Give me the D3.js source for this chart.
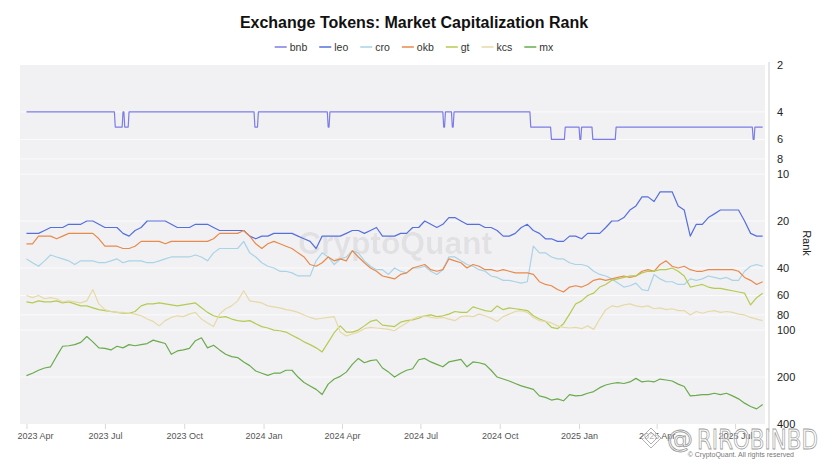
<!DOCTYPE html>
<html>
<head>
<meta charset="utf-8">
<title>Exchange Tokens: Market Capitalization Rank</title>
<style>
	body {
		margin: 0;
		background: #fff;
	}

	svg {
		display: block;
		font-family: "Liberation Sans", Arial, sans-serif;
	}

	.title {
		font-size: 16px;
		font-weight: bold;
		fill: #111;
	}

	.legend text {
		font-size: 10.5px;
		fill: #333;
	}

	.x.axis text {
		font-size: 9px;
		fill: #555;
	}

	.x.axis line {
		stroke: #d8d8d8;
	}

	.x.axis path {
		display: none;
	}

	.y.axis text {
		font-size: 11px;
		fill: #222;
	}

	.y.axis path {
		stroke: #cfcfcf;
	}

	.grid line {
		stroke: #fbfbfc;
	}

	.line {
		fill: none;
		stroke-width: 1.2;
		stroke-linejoin: round;
	}
</style>
<script src="https://d3js.org/d3.v7.min.js"></script>
</head>
<body>
<svg id="chart" width="828" height="466"></svg>
<script type="text/javascript">
	// one value per week, starting on this day
	var startDay = "2023-04-01";
	var stepDays = 7;

	var names = ["bnb", "leo", "cro", "okb", "gt", "kcs", "mx"];
	var colors = ["#7c7ce6", "#5670da", "#a9d3e6", "#e88a4c", "#b4cb52", "#e7d9a6", "#6aab4c"];

	// bnb only moves in steps: [day since start, rank from that day on]
	var bnbSteps = [[0, 4], [103, 5], [112, 4], [114, 5], [119, 4], [265, 5], [269, 4],
		[350, 5], [352, 4], [484, 5], [486, 4], [494, 5], [496, 4], [585, 5], [609, 6],
		[625, 5], [642, 6], [644, 5], [657, 6], [684, 5], [843, 6], [845, 5]];
	var bnbLastDay = 854;

	var leo = [24,24,24,23,22,22,22,21,21,21, 20,20,21,22,22,22,24,25,23,22,
		20,20,20,20,21,22,22,22,21,21, 21,22,23,23,23,23,23,25,26,25,
		25,24,24,24,24,25,26,27,30,25, 25,25,25,24,23,23,24,23,22,25,
		25,25,24,24,22,22,20,21,22,21, 19,19,20,21,21,21,22,22,23,25,
		25,24,22,21,23,24,26,26,27,27, 25,25,26,24,24,24,22,20,20,19,
		17,16,14,14,15,13,13,13,16,17, 25,21,21,19,18,17,17,17,17,20,
		24,25,25];

	var cro = [35,37,39,36,33,34,35,36,38,36, 36,36,37,37,36,35,37,36,36,36,
		37,37,36,35,34,34,34,34,33,34, 36,32,30,30,30,30,27,32,34,37,
		39,40,42,42,43,45,45,45,36,32, 34,38,35,34,31,32,36,39,41,41,
		44,40,42,43,40,40,39,42,44,41, 34,34,36,38,39,41,42,45,46,48,
		48,49,50,49,29,32,32,34,35,35, 37,38,38,39,42,44,45,47,50,53,
		52,50,55,56,44,47,49,49,51,51, 47,48,47,45,46,47,46,48,48,42,
		39,38,39];

	var okb = [28,28,25,25,25,26,25,24,24,24, 24,24,26,29,29,29,30,30,29,27,
		27,27,27,28,27,27,27,27,27,27, 27,26,24,24,24,24,23,25,28,30,
		28,27,28,29,30,32,34,38,39,37, 34,36,35,36,31,34,37,40,42,45,
		46,47,44,43,40,39,38,41,42,41, 35,36,37,40,38,39,41,41,42,41,
		42,43,43,43,44,49,51,52,55,57, 53,52,53,51,48,47,48,47,46,45,
		46,45,42,41,42,38,36,39,40,39, 41,42,42,41,41,41,41,41,42,46,
		48,51,49];

	var gt = [66,67,65,66,66,65,67,66,68,70, 70,72,74,75,76,77,78,78,76,70,
		68,68,67,68,69,70,69,68,67,72, 77,81,83,82,85,87,88,87,91,95,
		97,100,101,103,108,113,119,124,130,138, 120,104,94,103,103,100,94,88,86,93,
		94,95,89,87,86,84,81,80,82,81, 79,76,77,77,71,73,75,76,70,74,
		72,73,74,75,81,85,88,96,98,91, 79,68,65,60,58,53,51,48,47,46,
		45,45,43,42,42,41,41,40,42,45, 53,52,51,53,54,54,55,56,57,58,
		69,62,58];

	var kcs = [60,62,60,63,62,63,66,65,66,67, 65,55,68,74,76,77,77,78,79,81,
		85,88,94,87,83,81,82,79,77,85, 90,95,79,73,70,65,56,65,66,67,
		70,71,72,74,75,77,80,83,85,84, 83,82,103,109,106,103,98,96,97,98,
		99,101,95,90,85,82,81,83,84,83, 85,87,82,81,82,79,81,84,88,82,
		79,76,75,77,83,87,88,90,94,96, 97,96,98,94,99,85,74,70,71,69,
		68,70,71,70,73,72,74,73,75,75, 80,76,78,76,75,77,76,77,79,80,
		83,85,87];

	var mx = [196,189,181,175,172,147,127,126,124,120, 110,119,130,131,134,127,130,124,126,124,
		122,116,119,122,143,136,134,131,117,112, 130,125,134,143,148,150,160,169,183,189,
		195,189,189,181,181,200,217,228,240,259, 222,206,198,186,166,152,162,157,155,175,
		186,200,189,181,177,155,152,160,166,172, 160,157,154,172,160,162,166,181,200,206,
		212,220,228,234,240,264,270,281,276,284, 259,264,262,254,248,234,225,220,217,220,
		215,204,215,212,215,206,209,212,222,230, 264,262,259,259,254,259,254,264,276,294,
		309,320,300];

	var rankTicks = [2, 4, 6, 8, 10, 20, 40, 60, 80, 100, 200, 400];

	var svg = d3.select("#chart");

	var margin = {top: 65, right: 63, bottom: 42, left: 20},
		width = +svg.attr("width") - margin.left - margin.right,
		height = +svg.attr("height") - margin.top - margin.bottom;

	var start = d3.utcParse("%Y-%m-%d")(startDay);

	function weekly(values) {
		return values.map(function(v, i) {
			return {date: d3.utcDay.offset(start, i * stepDays), rank: v};
		});
	}

	function steps(changes, lastDay) {
		var out = [], k = 0;
		for (var d = 0; d <= lastDay; d++) {
			while (k + 1 < changes.length && changes[k + 1][0] <= d) k++;
			out.push({date: d3.utcDay.offset(start, d), rank: changes[k][1]});
		}
		return out;
	}

	var series = [
		steps(bnbSteps, bnbLastDay), weekly(leo), weekly(cro), weekly(okb),
		weekly(gt), weekly(kcs), weekly(mx)
	].map(function(values, i) {
		return {name: names[i], color: colors[i], values: values};
	});

	var x = d3.scaleUtc()
		.domain([new Date(Date.UTC(2023, 2, 24, 12)), new Date(Date.UTC(2025, 7, 4, 17))])
		.range([0, width]);

	var y = d3.scaleLog()
		.domain([2, 400])
		.range([0, height]);

	// title + legend
	svg.append("text")
		.attr("class", "title")
		.attr("x", 414)
		.attr("y", 28)
		.attr("text-anchor", "middle")
		.text("Exchange Tokens: Market Capitalization Rank");

	var legend = svg.append("g").attr("class", "legend");
	var item = legend.selectAll("g").data(series).enter().append("g");
	item.append("line")
		.attr("x1", 0).attr("x2", 12)
		.attr("y1", 0).attr("y2", 0)
		.attr("stroke", function(d) { return d.color; })
		.attr("stroke-width", 1.5);
	item.append("text")
		.attr("x", 15)
		.attr("dy", "0.35em")
		.text(function(d) { return d.name; });

	var pos = 0, offsets = [];
	item.each(function() {
		offsets.push(pos);
		pos += 15 + d3.select(this).select("text").node().getComputedTextLength() + 12;
	});
	pos -= 12;
	item.attr("transform", function(d, i) { return "translate(" + offsets[i] + ",0)"; });
	legend.attr("transform", "translate(" + (414 - pos / 2) + ",47)");

	var g = svg.append("g")
		.attr("transform", "translate(" + margin.left + "," + margin.top + ")");

	g.append("rect")
		.attr("width", width)
		.attr("height", height)
		.attr("fill", "#f1f1f4");

	g.append("g")
		.attr("class", "grid")
		.selectAll("line")
		.data(rankTicks.slice(1, -1))
		.enter().append("line")
		.attr("x1", 0).attr("x2", width)
		.attr("y1", function(d) { return y(d); })
		.attr("y2", function(d) { return y(d); });

	// faint watermark behind the lines
	g.append("text")
		.attr("x", 278)
		.attr("y", 189)
		.attr("textLength", 194)
		.attr("lengthAdjust", "spacingAndGlyphs")
		.style("font-size", "32px")
		.style("font-weight", "bold")
		.attr("fill", "#000")
		.attr("fill-opacity", 0.07)
		.text("CryptoQuant");

	g.append("clipPath")
		.attr("id", "plot-clip")
		.append("rect")
		.attr("width", width)
		.attr("height", height);

	var line = d3.line()
		.x(function(d) { return x(d.date); })
		.y(function(d) { return y(d.rank); });

	g.append("g")
		.attr("clip-path", "url(#plot-clip)")
		.selectAll(".line")
		.data(series)
		.enter().append("path")
		.attr("class", "line")
		.attr("stroke", function(d) { return d.color; })
		.attr("d", function(d) { return line(d.values); });

	var xAxis = g.append("g")
		.attr("class", "x axis")
		.attr("transform", "translate(0," + height + ")")
		.call(d3.axisBottom(x)
			.ticks(d3.utcMonth.every(3))
			.tickFormat(d3.utcFormat("%Y %b"))
			.tickSize(5)
			.tickPadding(4));

	// keep the first label from running past the left edge
	xAxis.selectAll(".tick").each(function(d) {
		var t = d3.select(this).select("text");
		var left = margin.left + x(d) - t.node().getComputedTextLength() / 2;
		if (left < 17) t.attr("dx", 17 - left);
	});

	var yAxis = g.append("g")
		.attr("class", "y axis")
		.attr("transform", "translate(" + (width + 4) + ",0)")
		.call(d3.axisRight(y)
			.tickValues(rankTicks)
			.tickFormat(d3.format("d"))
			.tickSize(0)
			.tickPadding(8));
	yAxis.select(".domain").attr("d", "M0,-3V" + (height + 8));

	svg.append("text")
		.attr("transform", "translate(803,243) rotate(90)")
		.attr("text-anchor", "middle")
		.style("font-size", "11px")
		.attr("fill", "#222")
		.text("Rank");

	// overlay marks in the lower right corner
	var mark = svg.append("g")
		.attr("fill", "#fff")
		.attr("fill-opacity", 0.55)
		.attr("stroke", "#9c9c9c")
		.attr("stroke-width", 0.8)
		.style("font-family", "'DejaVu Sans', sans-serif");
	mark.append("path").attr("d", "M651,428L661,438L651,448L641,438Z M651,432L657,438L651,444L645,438Z");
	mark.append("text")
		.attr("x", 667).attr("y", 448)
		.attr("textLength", 26).attr("lengthAdjust", "spacingAndGlyphs")
		.style("font-size", "25px")
		.text("@");
	mark.append("text")
		.attr("x", 697).attr("y", 449)
		.attr("textLength", 121).attr("lengthAdjust", "spacingAndGlyphs")
		.style("font-size", "27px")
		.text("RIROBINBD");

	svg.append("text")
		.attr("x", 794)
		.attr("y", 457)
		.attr("text-anchor", "end")
		.style("font-size", "7px")
		.attr("fill", "#777")
		.text("© CryptoQuant. All rights reserved");
</script>
</body>
</html>
